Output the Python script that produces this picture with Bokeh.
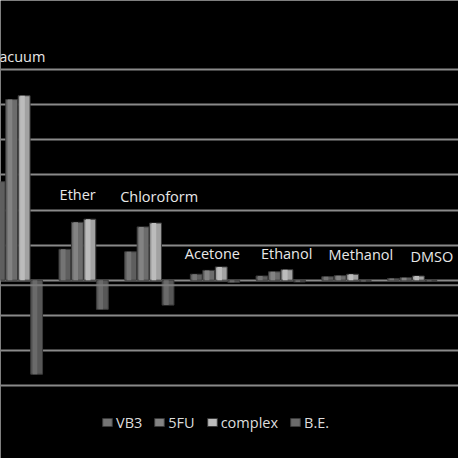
# Binding energies of VB3 / 5FU / complex in different solvents (Bokeh)

from bokeh.plotting import figure
from bokeh.models import ColumnDataSource, FixedTicker, Legend, LegendItem, Span
from bokeh.core.properties import value
from bokeh.embed import file_html
from bokeh.resources import INLINE

# data
solvents = ['Vacuum', 'Ether', 'Chloroform', 'Acetone', 'Ethanol', 'Methanol', 'DMSO']
vb3 = [2.81, 0.88, 0.81, 0.17, 0.12, 0.10, 0.05]
fu5 = [5.15, 1.65, 1.52, 0.28, 0.24, 0.13, 0.07]
cplx = [5.26, 1.74, 1.63, 0.38, 0.30, 0.17, 0.12]
be = [-2.68, -0.83, -0.71, -0.06, -0.05, -0.04, -0.03]
series_names = ['VB3', '5FU', 'complex', 'B.E.']
grid_levels = [-3, -2, -1, 0, 1, 2, 3, 4, 5, 6]

# where the solvent names sit (category units)
label_x = [0.0, 0.91, 2.15, 2.96, 4.09, 5.22, 6.30]
label_y = [6.39, 2.45, 2.40, 0.77, 0.77, 0.74, 0.69]

colors = ['#5e5e5e', '#6c6c6c', '#a2a2a2', '#575757']
shine = ['#747474', '#838383', '#bcbcbc', '#6a6a6a']
offsets = [-0.285, -0.095, 0.095, 0.285]

FONT = 'Open Sans'

p = figure(width=458, height=458, x_range=(-0.265, 6.706), y_range=(-5.083, 7.975),
           output_backend='svg', toolbar_location=None, min_border=0,
           background_fill_color='black', border_fill_color='black')
p.axis.visible = False
p.outline_line_color = None
p.xgrid.visible = False
p.ygrid.ticker = FixedTicker(ticks=grid_levels)
p.ygrid.grid_line_color = '#8a8a8a'
p.ygrid.grid_line_width = 2

# front edge of the floor
p.add_layout(Span(location=-0.14, dimension='width', line_color='#7a7a7a', line_width=2))

xs = list(range(len(solvents)))
items = []
for name, vals, col, hi, off in zip(series_names, [vb3, fu5, cplx, be], colors, shine, offsets):
    src = ColumnDataSource({'x': [x + off for x in xs],
                            'xh': [x + off - 0.025 for x in xs],
                            'top': vals})
    p.vbar(x='x', top='top', bottom=0, width=0.18, source=src,
           fill_color=col, line_color='#3a3a3a', line_width=1)
    p.vbar(x='xh', top='top', bottom=0, width=0.07, source=src,
           fill_color=hi, line_color=None)
    # legend swatch, kept outside the visible range
    sw = p.quad(left=[-50], right=[-49], bottom=[-50], top=[-49],
                fill_color=hi, line_color='#3a3a3a')
    items.append(LegendItem(label=name, renderers=[sw]))

lab = ColumnDataSource({'x': label_x, 'y': label_y, 'text': solvents})
p.text(x='x', y='y', text='text', source=lab, text_align='center', text_baseline='middle',
       text_color='#e8e8e8', text_font=value(FONT), text_font_size='14.5px')

legend = Legend(items=items, orientation='horizontal', location=(101, 26),
                background_fill_alpha=0, border_line_color=None,
                label_text_color='#dddddd', label_text_font=FONT, label_text_font_size='14.5px',
                glyph_width=12, glyph_height=10, label_standoff=3, spacing=11,
                padding=0, margin=0, label_height=20)
p.add_layout(legend)

open('out.html', 'w').write(file_html(p, INLINE))
